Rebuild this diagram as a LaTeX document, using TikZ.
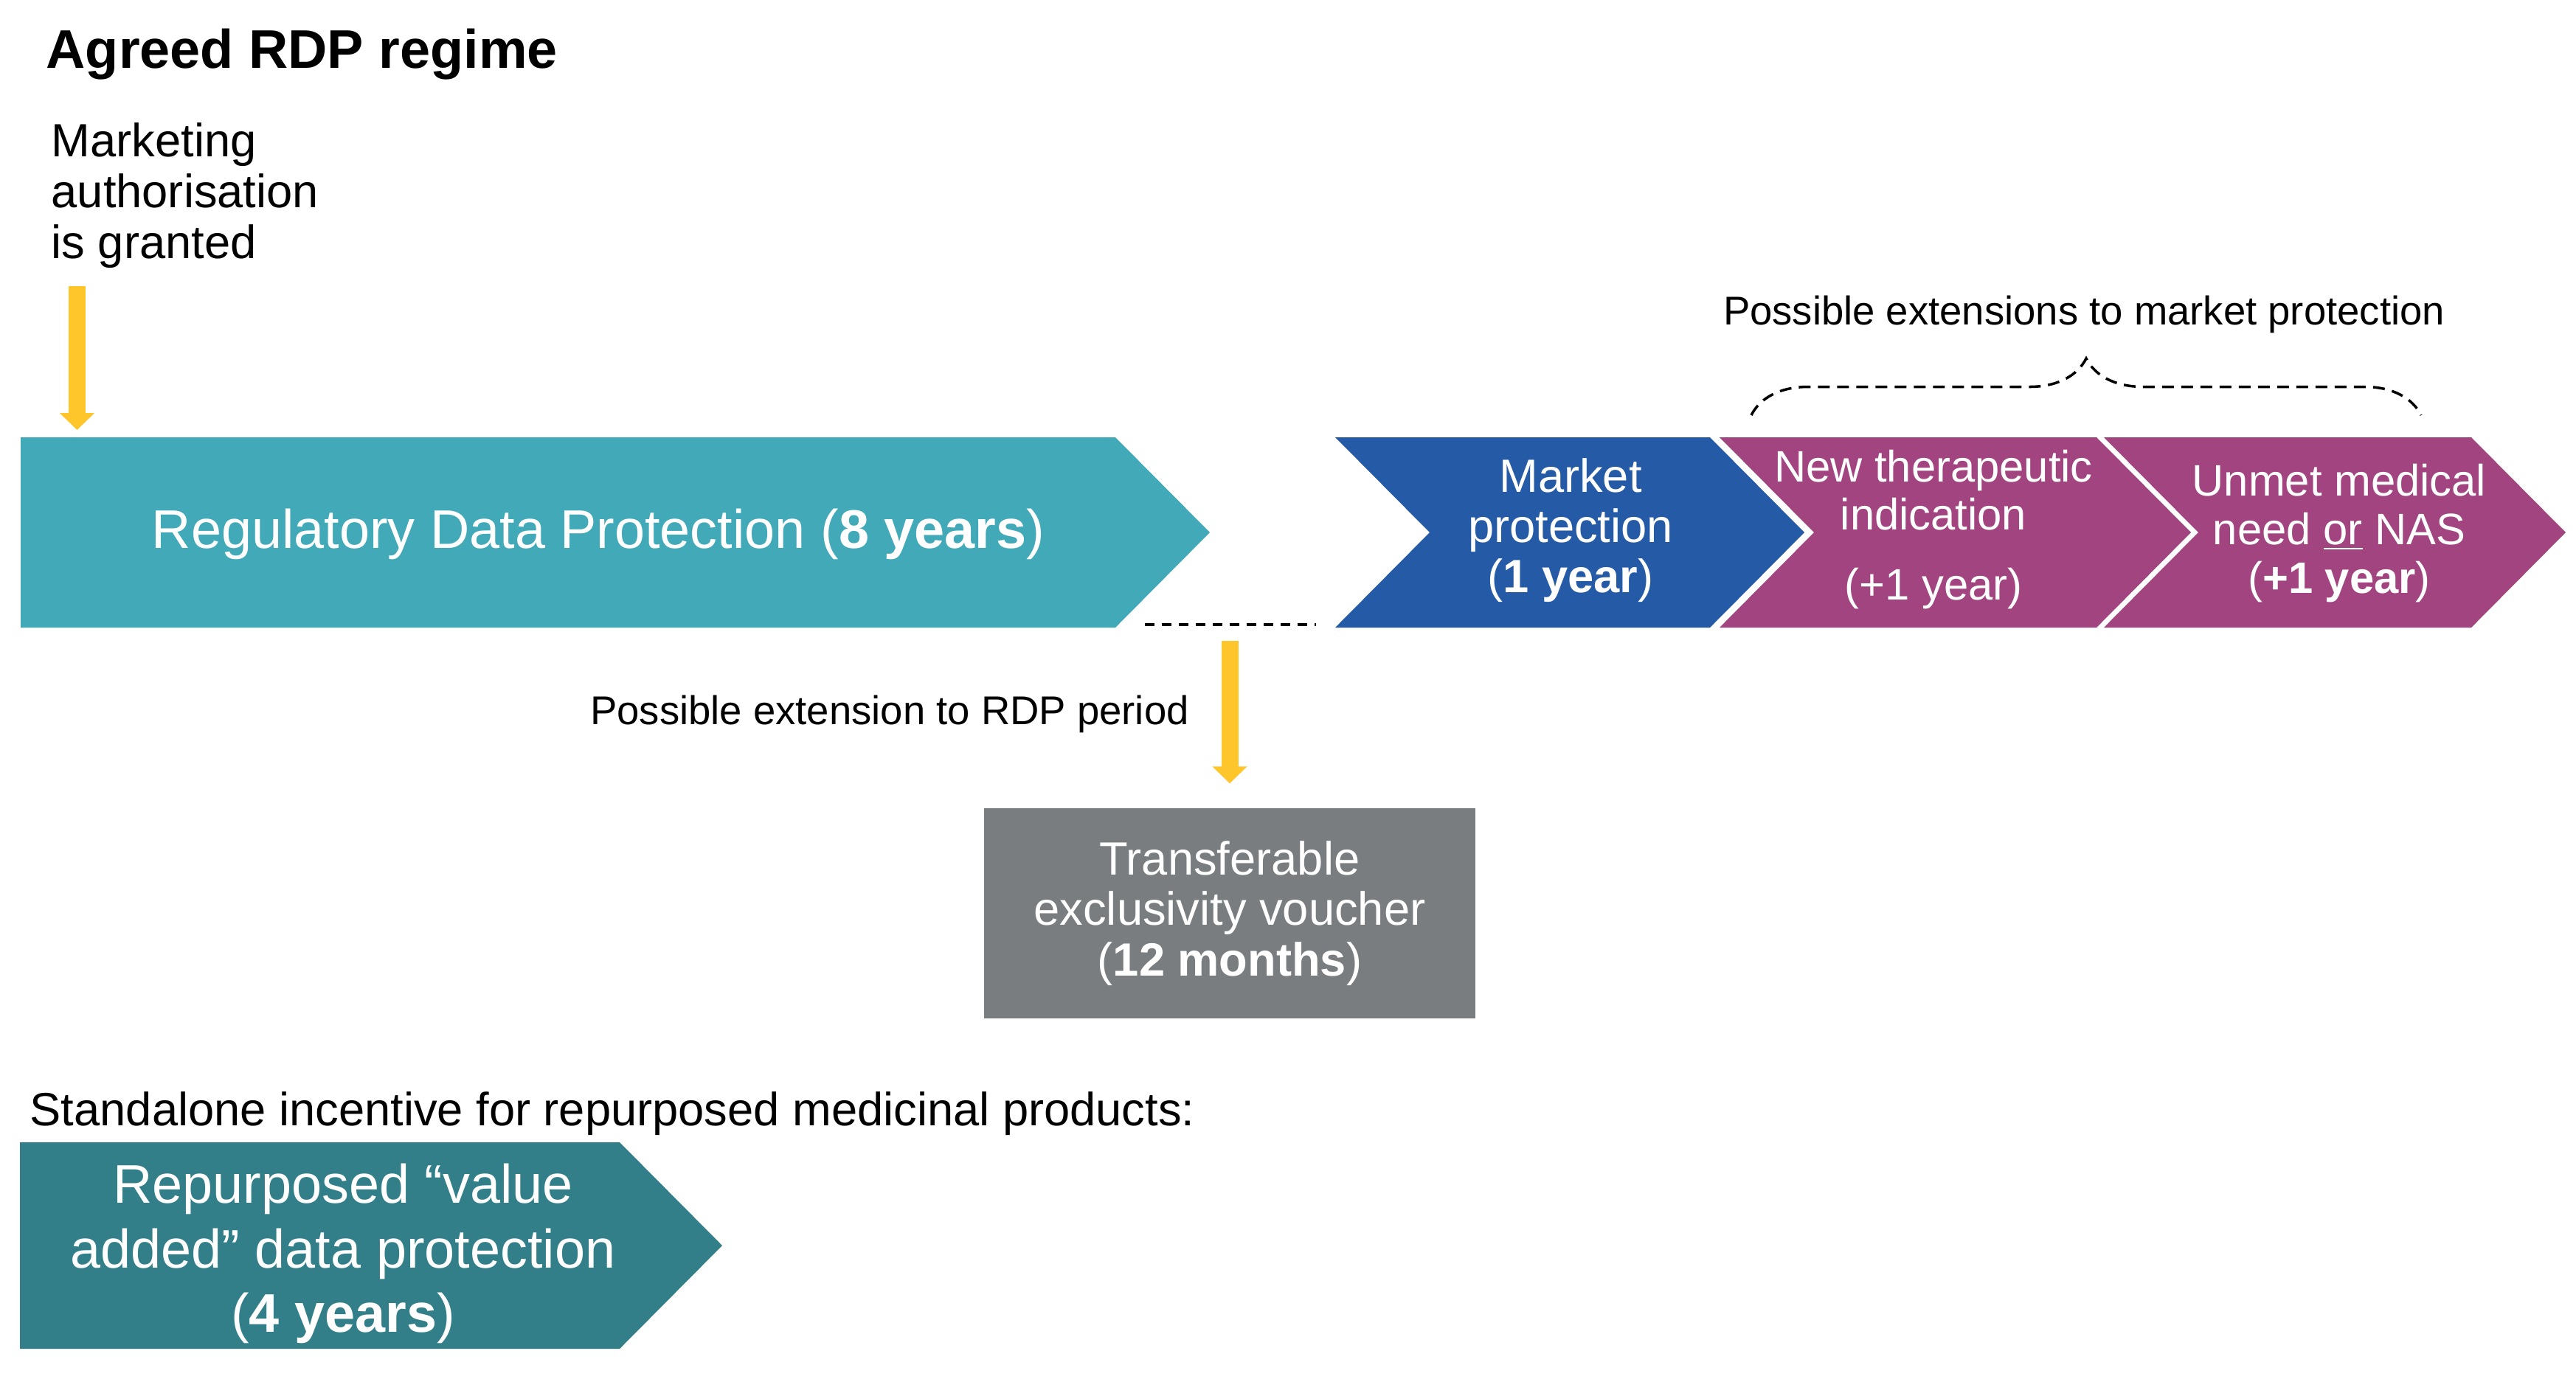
\documentclass[tikz,border=0pt]{standalone}
\usepackage{fontspec}
\setmainfont{Liberation Sans}
\usetikzlibrary{arrows.meta,positioning,decorations.pathreplacing}
\definecolor{rdpteal}{RGB}{66,169,184}
\definecolor{mpblue}{RGB}{37,90,166}
\definecolor{extmag}{RGB}{161,68,127}
\definecolor{vouchgrey}{RGB}{122,125,128}
\definecolor{repteal}{RGB}{50,127,137}
\definecolor{marker}{RGB}{255,198,44}
\tikzset{
  lbl/.style={inner sep=0pt, align=left, text=black, font=\fontsize{18}{19.6}\selectfont},
  note/.style={inner sep=0pt, text=black, font=\fontsize{15.5}{18}\selectfont},
  boxtext/.style={inner sep=0pt, align=center, text=white, font=\fontsize{18}{19.4}\selectfont},
  bigtext/.style={inner sep=0pt, align=center, text=white, font=\fontsize{21}{25}\selectfont},
  down/.style={-{Triangle[width=0.46cm,length=0.23cm]}, marker, line width=0.23cm},
  gapline/.style={black, line width=1pt, dash pattern=on 0.13cm off 0.1cm},
}

\begin{document}
\begin{tikzpicture}
  \useasboundingbox (0,0) rectangle (34.92,-18.69);
  % heading
  \node[lbl,anchor=west,font=\fontsize{21}{25}\selectfont\bfseries] (title) at (0.62,-0.74) {Agreed RDP regime};
  \node[lbl,anchor=west] (granted) at (0.69,-2.65) {Marketing\\authorisation\\is granted};
  % main timeline
  \fill[rdpteal] (0.28,-5.93) -- (15.12,-5.93) -- (16.40,-7.22) -- (15.12,-8.51) -- (0.28,-8.51) -- cycle;
  \fill[mpblue] (18.10,-5.93) -- (23.18,-5.93) -- (24.46,-7.22) -- (23.18,-8.51) -- (18.10,-8.51) -- (19.38,-7.22) -- cycle;
  \fill[extmag] (23.31,-5.93) -- (28.42,-5.93) -- (29.70,-7.22) -- (28.42,-8.51) -- (23.31,-8.51) -- (24.59,-7.22) -- cycle;
  \fill[extmag] (28.52,-5.93) -- (33.50,-5.93) -- (34.78,-7.22) -- (33.50,-8.51) -- (28.52,-8.51) -- (29.80,-7.22) -- cycle;
  \node[bigtext] (rdp) at (8.11,-7.24) {Regulatory Data Protection (\textbf{8 years})};
  \node[boxtext] (mp) at (21.29,-7.19) {Market\\protection\\(\textbf{1 year})};
  \node[boxtext,font=\fontsize{17}{18.6}\selectfont] (nti) at (26.21,-7.18) {New therapeutic\\indication\\[0.3cm](+1 year)};
  \node[boxtext,font=\fontsize{17}{18.8}\selectfont] (umn) at (31.71,-7.23) {Unmet medical\\need \underline{or} NAS\\(\textbf{+1 year})};
  \coordinate (grantedarrow) at (1.045,-3.88);
  \coordinate (rdptop) at (1.045,-5.83);
  \draw[down] (grantedarrow) -- (rdptop);
  % extensions to market protection
  \node[note] (mpext) at (28.25,-4.26) {Possible extensions to market protection};
  \coordinate (braceleft) at (23.74,-5.63);
  \coordinate (braceright) at (32.82,-5.63);
  \draw[black, line width=1pt, dash pattern=on 0.16cm off 0.1cm, decorate, decoration={brace,amplitude=0.77cm}] (braceleft) -- (braceright);
  % voucher
  \coordinate (rdpend) at (15.52,-8.47);
  \coordinate (mpstart) at (17.84,-8.47);
  \draw[gapline] (rdpend) -- (mpstart);
  \node[note] (rdpext) at (12.06,-9.68) {Possible extension to RDP period};
  \node[boxtext, fill=vouchgrey, minimum width=6.66cm, minimum height=2.85cm] (voucher) at (16.67,-12.385) {Transferable\\exclusivity voucher\\(\textbf{12 months})};
  \coordinate (extarrow) at (16.67,-8.69);
  \draw[down] (extarrow) -- ([yshift=0.33cm]voucher.north);
  % standalone incentive
  \node[lbl,anchor=west] (standalone) at (0.40,-15.10) {Standalone incentive for repurposed medicinal products:};
  \fill[repteal] (0.27,-15.49) -- (8.40,-15.49) -- (9.79,-16.89) -- (8.40,-18.29) -- (0.27,-18.29) -- cycle;
  \node[bigtext] (repurp) at (4.65,-17.00) {Repurposed “value\\added” data protection\\(\textbf{4 years})};
\end{tikzpicture}
\end{document}
